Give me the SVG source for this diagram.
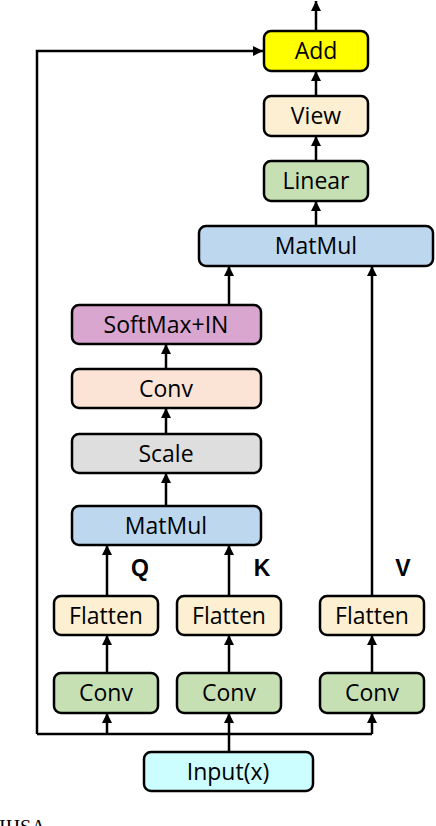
<svg xmlns="http://www.w3.org/2000/svg" width="436" height="826" viewBox="0 0 436 826">
<style>
.n{stroke:#000;stroke-width:2.5}
.t{font-family:"Open Sans","Noto Sans",sans-serif;font-size:23px;text-anchor:middle;dominant-baseline:central;fill:#000}
.c{fill:none;stroke:#000;stroke-width:2.5}
.l{font-family:"Liberation Sans",Arial,sans-serif;font-size:23px;font-weight:bold;text-anchor:middle;dominant-baseline:central}
</style>
<defs>
<marker id="a" viewBox="0 0 10 10" refX="10" refY="5" markerWidth="4" markerHeight="4" orient="auto" markerUnits="strokeWidth">
<path d="M0,0 L10,5 L0,10 z" fill="#000"/>
</marker>
</defs>
<rect width="436" height="826" fill="#fff"/>
<g id="connectors">
<path class="c" d="M316,31 V1" marker-end="url(#a)"/>
<path class="c" d="M316,96 V71" marker-end="url(#a)"/>
<path class="c" d="M316,161 V136" marker-end="url(#a)"/>
<path class="c" d="M316,226 V201" marker-end="url(#a)"/>
<path class="c" d="M229,305 V266" marker-end="url(#a)"/>
<path class="c" d="M372,596 V266" marker-end="url(#a)"/>
<path class="c" d="M166,369 V344" marker-end="url(#a)"/>
<path class="c" d="M166,434 V408" marker-end="url(#a)"/>
<path class="c" d="M166,506 V473" marker-end="url(#a)"/>
<path class="c" d="M107,596 V545" marker-end="url(#a)"/>
<path class="c" d="M229,596 V545" marker-end="url(#a)"/>
<path class="c" d="M107,673 V635" marker-end="url(#a)"/>
<path class="c" d="M229,673 V635" marker-end="url(#a)"/>
<path class="c" d="M372,673 V635" marker-end="url(#a)"/>
<path class="c" d="M37,734 H372"/>
<path class="c" d="M37,734 V51 H263" marker-end="url(#a)"/>
<path class="c" d="M107,734 V713" marker-end="url(#a)"/>
<path class="c" d="M372,734 V713" marker-end="url(#a)"/>
<path class="c" d="M229,752 V713" stroke-width="3.5" marker-end="url(#a)"/>
<text class="l" x="140" y="568">Q</text>
<text class="l" x="262" y="568">K</text>
<text class="l" x="403" y="568">V</text>
</g>
<g id="add"><rect class="n" x="264" y="31" width="104" height="40" rx="7" fill="#ffff00"/><text class="t" x="316" y="50">Add</text></g>
<g id="view"><rect class="n" x="264" y="96" width="104" height="40" rx="7" fill="#fdf0d2"/><text class="t" x="316" y="115">View</text></g>
<g id="linear"><rect class="n" x="264" y="161" width="104" height="40" rx="7" fill="#c6e0b4"/><text class="t" x="316" y="180">Linear</text></g>
<g id="matmul2"><rect class="n" x="199" y="226" width="234" height="40" rx="7" fill="#bdd7ee"/><text class="t" x="316" y="245">MatMul</text></g>
<g id="softmax"><rect class="n" x="72" y="305" width="189" height="39" rx="7" fill="#d9a6cf"/><text class="t" x="166" y="324">SoftMax+IN</text></g>
<g id="conv_attn"><rect class="n" x="72" y="369" width="189" height="39" rx="7" fill="#fbe4d6"/><text class="t" x="166" y="388">Conv</text></g>
<g id="scale"><rect class="n" x="72" y="434" width="189" height="39" rx="7" fill="#dedede"/><text class="t" x="166" y="453">Scale</text></g>
<g id="matmul1"><rect class="n" x="72" y="506" width="189" height="39" rx="7" fill="#bdd7ee"/><text class="t" x="166" y="525">MatMul</text></g>
<g id="flatten_q"><rect class="n" x="54" y="596" width="104" height="39" rx="7" fill="#fdf0d2"/><text class="t" x="106" y="615">Flatten</text></g>
<g id="flatten_k"><rect class="n" x="177" y="596" width="104" height="39" rx="7" fill="#fdf0d2"/><text class="t" x="229" y="615">Flatten</text></g>
<g id="flatten_v"><rect class="n" x="320" y="596" width="104" height="39" rx="7" fill="#fdf0d2"/><text class="t" x="372" y="615">Flatten</text></g>
<g id="conv_q"><rect class="n" x="54" y="673" width="104" height="40" rx="7" fill="#c6e0b4"/><text class="t" x="106" y="692">Conv</text></g>
<g id="conv_k"><rect class="n" x="177" y="673" width="104" height="40" rx="7" fill="#c6e0b4"/><text class="t" x="229" y="692">Conv</text></g>
<g id="conv_v"><rect class="n" x="320" y="673" width="104" height="40" rx="7" fill="#c6e0b4"/><text class="t" x="372" y="692">Conv</text></g>
<g id="input"><rect class="n" x="144" y="752" width="169" height="39" rx="7" fill="#ccfdff"/><text class="t" x="228" y="771">Input(x)</text></g>
<text x="-1" y="834" font-family="Liberation Serif,serif" font-size="20">IHSA</text>
</svg>
